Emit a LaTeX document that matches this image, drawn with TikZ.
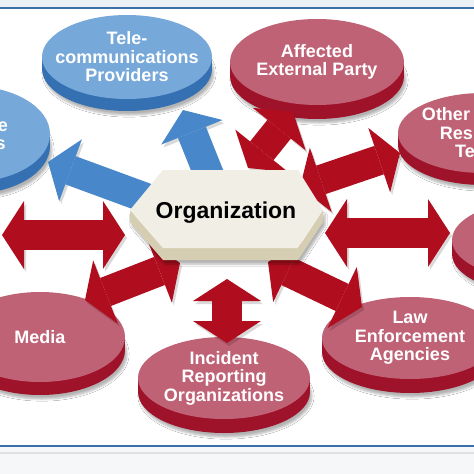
\documentclass[tikz,border=0pt]{standalone}
\usepackage{fontspec}
\setmainfont{Liberation Sans}
\usetikzlibrary{arrows.meta,shadows.blur}

\definecolor{redtop}{RGB}{192,98,118}
\definecolor{redside}{RGB}{158,18,42}
\definecolor{bluetop}{RGB}{118,168,218}
\definecolor{blueside}{RGB}{52,112,178}
\definecolor{arrowred}{RGB}{176,14,30}
\definecolor{arrowblue}{RGB}{72,136,202}
\definecolor{orgtop}{RGB}{240,238,229}
\definecolor{orgside}{RGB}{214,206,178}
\definecolor{frameblue}{RGB}{60,110,168}
\definecolor{framegray}{RGB}{236,241,245}
\definecolor{footgray}{RGB}{246,247,248}

\tikzset{
  disctext/.style={text=white, font=\bfseries\fontsize{18}{18.5}\selectfont, align=center, inner sep=0pt},
  orgtext/.style={text=black, font=\bfseries\fontsize{23}{24}\selectfont, inner sep=0pt},
  arrowshadow/.style={preaction={draw=black, opacity=0.15, transform canvas={xshift=2pt,yshift=-3pt}}},
  discshadow/.style={blur shadow={shadow xshift=2pt, shadow yshift=-4pt, shadow blur steps=6, shadow opacity=30}},
  redarrow/.style={arrowshadow, draw=arrowred, line width=30pt,
    {Triangle[width=68pt,length=22pt,line width=0pt]}-{Triangle[width=68pt,length=22pt,line width=0pt]}},
  bluearrow/.style={arrowshadow, draw=arrowblue, line width=30pt,
    -{Triangle[width=66pt,length=24pt,line width=0pt]}},
}

% name, x, y, x radius, y radius, thickness, colour, text
\newcommand\disc[8]{%
  \fill[#7side, discshadow] (#2,#3+#6) ellipse [x radius=#4, y radius=#5];
  \fill[#7side] (#2-#4,#3) rectangle (#2+#4,#3+#6);
  \fill[#7top] (#2,#3) ellipse [x radius=#4, y radius=#5];
  \node[disctext] (#1) at (#2,#3) {#8};
}

\begin{document}
\begin{tikzpicture}[x=1pt, y=-1pt]
  \useasboundingbox (0,0) rectangle (474,474);
  \clip (0,0) rectangle (474,474);
  \fill[white] (0,0) rectangle (474,474);
  \fill[framegray] (0,0) rectangle (474,7);
  \fill[footgray] (0,447) rectangle (474,474);
  \draw[frameblue, line width=2pt] (0,8) -- (474,8);
  \draw[frameblue, line width=2pt] (0,446) -- (474,446);
  \draw[black!12, line width=1.5pt] (0,453) -- (474,453);

  \disc{tel}{127}{57}{85}{42}{12}{blue}{Tele-\\communications\\Providers}
  \disc{soft}{-30}{134}{80}{48}{12}{blue}{Software\\Vendors}
  \disc{aff}{317}{62}{87}{43}{14}{red}{Affected\\External Party}
  \disc{oth}{483}{133}{85}{40}{12}{red}{Other Incident\\Response\\Teams}
  \disc{rgt}{540}{240}{88}{40}{14}{red}{}
  \disc{med}{40}{337}{85}{45}{13}{red}{Media}
  \disc{inc}{224}{378}{86}{41}{14}{red}{Incident\\Reporting\\Organizations}
  \disc{law}{410}{338}{88}{41}{14}{red}{Law\\Enforcement\\Agencies}

  % arrow ends
  \coordinate (l1) at (2,235);    \coordinate (l2) at (125,235);
  \coordinate (r1) at (325,233);  \coordinate (r2) at (450,233);
  \coordinate (i1) at (227,279);  \coordinate (i2) at (227,343);
  \coordinate (w1) at (268,262);  \coordinate (w2) at (362,307);
  \coordinate (m1) at (180,263);  \coordinate (m2) at (85,300);
  \coordinate (o1) at (300,187);  \coordinate (o2) at (400,153);
  \coordinate (a1) at (248,168);  \coordinate (a2) at (293,112);
  \coordinate (t1) at (215,190);  \coordinate (t2) at (183,110);
  \coordinate (s1) at (165,205);  \coordinate (s2) at (48,162);

  \draw[bluearrow] (t1) -- (t2);
  \draw[bluearrow] (s1) -- (s2);
  \draw[redarrow] (l1) -- (l2);
  \draw[redarrow] (r1) -- (r2);
  \draw[redarrow] (i1) -- (i2);
  \draw[redarrow] (w1) -- (w2);
  \draw[redarrow] (m1) -- (m2);
  \draw[redarrow] (o1) -- (o2);
  \draw[redarrow] (a1) -- (a2);

  % organization block
  \fill[orgside, discshadow] (130,210) -- (163,248) -- (298,248) -- (323,210) -- (323,222)
    -- (298,260) -- (163,260) -- (130,222) -- cycle;
  \fill[orgtop] (130,210) -- (163,170) -- (298,170) -- (323,210) -- (298,248) -- (163,248) -- cycle;
  \node[orgtext] (org) at (226,213) {Organization};
\end{tikzpicture}
\end{document}
